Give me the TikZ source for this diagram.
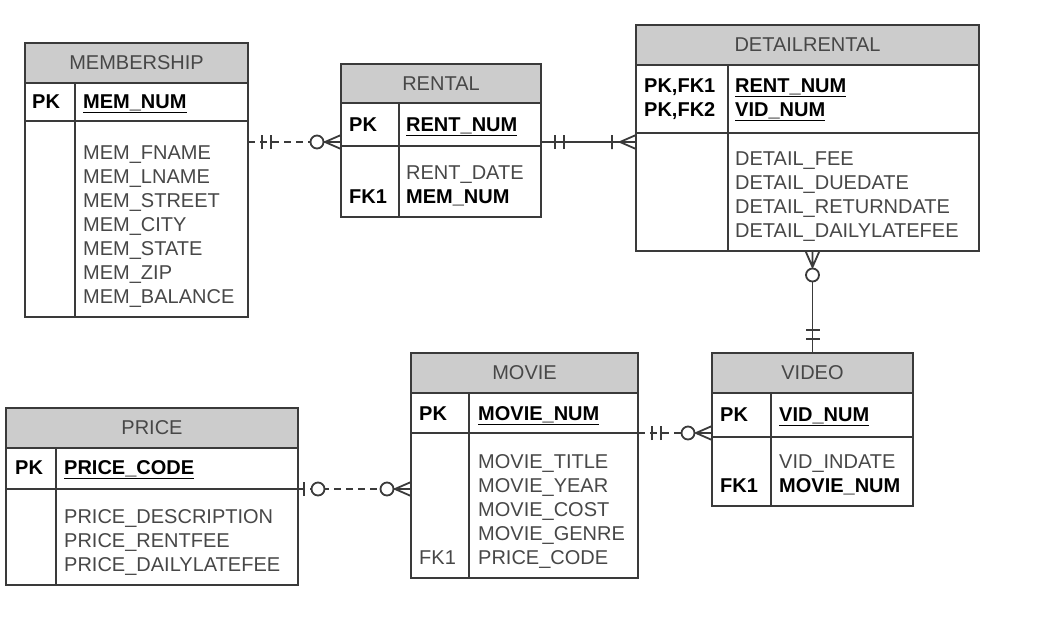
\documentclass[tikz,border=0pt]{standalone}
\usepackage{fontspec}
\setmainfont{Liberation Sans}
\usetikzlibrary{positioning,calc}
\definecolor{hdrgray}{HTML}{CCCCCC}
\definecolor{linegray}{HTML}{3A3A3A}
\definecolor{txtgray}{HTML}{474747}
\newcommand{\erfont}{\fontsize{20}{24}\selectfont}
\newcommand{\pkey}[1]{\underline{#1}}
\newcommand{\fkey}[1]{\textbf{\textcolor{black}{#1}}}
\tikzset{
  ent/.style={draw=linegray, line width=1.4pt, inner sep=0pt, outer sep=0pt},
  hdr/.style={ent, fill=hdrgray, text=txtgray, font=\erfont},
  row/.style={ent, fill=white},
  % base = baseline of the last line
  attr/.style={anchor=base west, inner sep=0pt, align=left, text=txtgray, font=\erfont},
  keyattr/.style={attr, text=black, font=\erfont\bfseries},
  rel/.style={draw=linegray, line width=1.8pt},
  nonid/.style={rel, dash pattern=on 7pt off 5pt},
  onlyone/.pic={\draw[rel,solid] (-14,-7) -- (-14,7) (-23,-7) -- (-23,7);},
  zeroone/.pic={\draw[rel,solid] (-6,-7) -- (-6,7);
    \draw[rel,solid,fill=white] (-20,0) circle[radius=6.5];},
  zeromany/.pic={\draw[rel,solid] (0,-7) -- (-16,0) -- (0,7) (-16,0) -- (0,0);
    \draw[rel,solid,fill=white] (-24,0) circle[radius=6.5];},
  onemany/.pic={\draw[rel,solid] (0,-7) -- (-16,0) -- (0,7) (-16,0) -- (0,0) (-24,-7) -- (-24,7);}
}
\begin{document}
\begin{tikzpicture}[x=1pt,y=-1pt]
  \useasboundingbox (0,0) rectangle (1052,616);

  % MEMBERSHIP
  \node[hdr, minimum width=223, minimum height=40, anchor=north west] (mem) at (25,43) {MEMBERSHIP};
  \node[row, minimum width=223, minimum height=38, below=0pt of mem] (memkey) {};
  \node[row, minimum width=223, minimum height=196, below=0pt of memkey] (membody) {};
  \draw[rel] ($(memkey.north west)+(50,0)$) -- ($(membody.south west)+(50,0)$);
  \node[keyattr] (mempk) at ($(memkey.north west)+(7,25)$) {PK};
  \node[keyattr] (memid) at ($(memkey.north west)+(58,25)$) {\pkey{MEM\_NUM}};
  \node[attr] (memattr) at ($(membody.north west)+(58,182)$)
    {MEM\_FNAME\\MEM\_LNAME\\MEM\_STREET\\MEM\_CITY\\MEM\_STATE\\MEM\_ZIP\\MEM\_BALANCE};

  % RENTAL
  \node[hdr, minimum width=200, minimum height=39, anchor=north west] (rent) at (341,64) {RENTAL};
  \node[row, minimum width=200, minimum height=43, below=0pt of rent] (rentkey) {};
  \node[row, minimum width=200, minimum height=71, below=0pt of rentkey] (rentbody) {};
  \draw[rel] ($(rentkey.north west)+(58,0)$) -- ($(rentbody.south west)+(58,0)$);
  \node[keyattr] (rentpk) at ($(rentkey.north west)+(8,28)$) {PK};
  \node[keyattr] (rentid) at ($(rentkey.north west)+(65,28)$) {\pkey{RENT\_NUM}};
  \node[keyattr] (rentfk) at ($(rentbody.north west)+(8,57)$) {FK1};
  \node[attr] (rentattr) at ($(rentbody.north west)+(65,57)$) {RENT\_DATE\\\fkey{MEM\_NUM}};

  % DETAILRENTAL
  \node[hdr, minimum width=343, minimum height=40, anchor=north west] (dr) at (636,25) {DETAILRENTAL};
  \node[row, minimum width=343, minimum height=68, below=0pt of dr] (drkey) {};
  \node[row, minimum width=343, minimum height=118, below=0pt of drkey] (drbody) {};
  \draw[rel] ($(drkey.north west)+(92,0)$) -- ($(drbody.south west)+(92,0)$);
  \node[keyattr] (drpk) at ($(drkey.north west)+(8,51)$) {PK,FK1\\PK,FK2};
  \node[keyattr] (drid) at ($(drkey.north west)+(99,51)$) {\pkey{RENT\_NUM}\\\pkey{VID\_NUM}};
  \node[attr] (drattr) at ($(drbody.north west)+(99,104)$)
    {DETAIL\_FEE\\DETAIL\_DUEDATE\\DETAIL\_RETURNDATE\\DETAIL\_DAILYLATEFEE};

  % VIDEO
  \node[hdr, minimum width=201, minimum height=40, anchor=north west] (vid) at (712,353) {VIDEO};
  \node[row, minimum width=201, minimum height=44, below=0pt of vid] (vidkey) {};
  \node[row, minimum width=201, minimum height=69, below=0pt of vidkey] (vidbody) {};
  \draw[rel] ($(vidkey.north west)+(59,0)$) -- ($(vidbody.south west)+(59,0)$);
  \node[keyattr] (vidpk) at ($(vidkey.north west)+(8,28)$) {PK};
  \node[keyattr] (vidid) at ($(vidkey.north west)+(67,28)$) {\pkey{VID\_NUM}};
  \node[keyattr] (vidfk) at ($(vidbody.north west)+(8,55)$) {FK1};
  \node[attr] (vidattr) at ($(vidbody.north west)+(67,55)$) {VID\_INDATE\\\fkey{MOVIE\_NUM}};

  % MOVIE
  \node[hdr, minimum width=227, minimum height=40, anchor=north west] (mov) at (411,353) {MOVIE};
  \node[row, minimum width=227, minimum height=40, below=0pt of mov] (movkey) {};
  \node[row, minimum width=227, minimum height=145, below=0pt of movkey] (movbody) {};
  \draw[rel] ($(movkey.north west)+(58,0)$) -- ($(movbody.south west)+(58,0)$);
  \node[keyattr] (movpk) at ($(movkey.north west)+(8,27)$) {PK};
  \node[keyattr] (movid) at ($(movkey.north west)+(67,27)$) {\pkey{MOVIE\_NUM}};
  \node[attr] (movfk) at ($(movbody.north west)+(8,131)$) {FK1};
  \node[attr] (movattr) at ($(movbody.north west)+(67,131)$)
    {MOVIE\_TITLE\\MOVIE\_YEAR\\MOVIE\_COST\\MOVIE\_GENRE\\PRICE\_CODE};

  % PRICE
  \node[hdr, minimum width=292, minimum height=40, anchor=north west] (prc) at (6,408) {PRICE};
  \node[row, minimum width=292, minimum height=41, below=0pt of prc] (prckey) {};
  \node[row, minimum width=292, minimum height=96, below=0pt of prckey] (prcbody) {};
  \draw[rel] ($(prckey.north west)+(50,0)$) -- ($(prcbody.south west)+(50,0)$);
  \node[keyattr] (prcpk) at ($(prckey.north west)+(9,26)$) {PK};
  \node[keyattr] (prcid) at ($(prckey.north west)+(58,26)$) {\pkey{PRICE\_CODE}};
  \node[attr] (prcattr) at ($(prcbody.north west)+(58,82)$)
    {PRICE\_DESCRIPTION\\PRICE\_RENTFEE\\PRICE\_DAILYLATEFEE};

  % relationships
  \coordinate (rk) at ($(rentkey.south west)+(0,-4)$);
  \coordinate (rr) at ($(rentkey.south east)+(0,-4)$);
  \draw[nonid] (rk -| memkey.east) -- (rk);
  \pic[rotate=180] at (rk -| memkey.east) {onlyone};
  \pic at (rk) {zeromany};

  \draw[rel] (rr) -- (rr -| drbody.west);
  \pic[rotate=180] at (rr) {onlyone};
  \pic at (rr -| drbody.west) {onemany};

  \draw[rel] (drbody.south -| vid.north) -- (vid.north);
  \pic[rotate=90] at (drbody.south -| vid.north) {zeromany};
  \pic[rotate=-90] at (vid.north) {onlyone};

  \draw[nonid] (movkey.south east) -- (movkey.south east -| vidkey.west);
  \pic[rotate=180] at (movkey.south east) {onlyone};
  \pic at (movkey.south east -| vidkey.west) {zeromany};

  \draw[nonid] (prckey.south east) -- (prckey.south east -| movbody.west);
  \pic[rotate=180] at (prckey.south east) {zeroone};
  \pic at (prckey.south east -| movbody.west) {zeromany};
\end{tikzpicture}
\end{document}
